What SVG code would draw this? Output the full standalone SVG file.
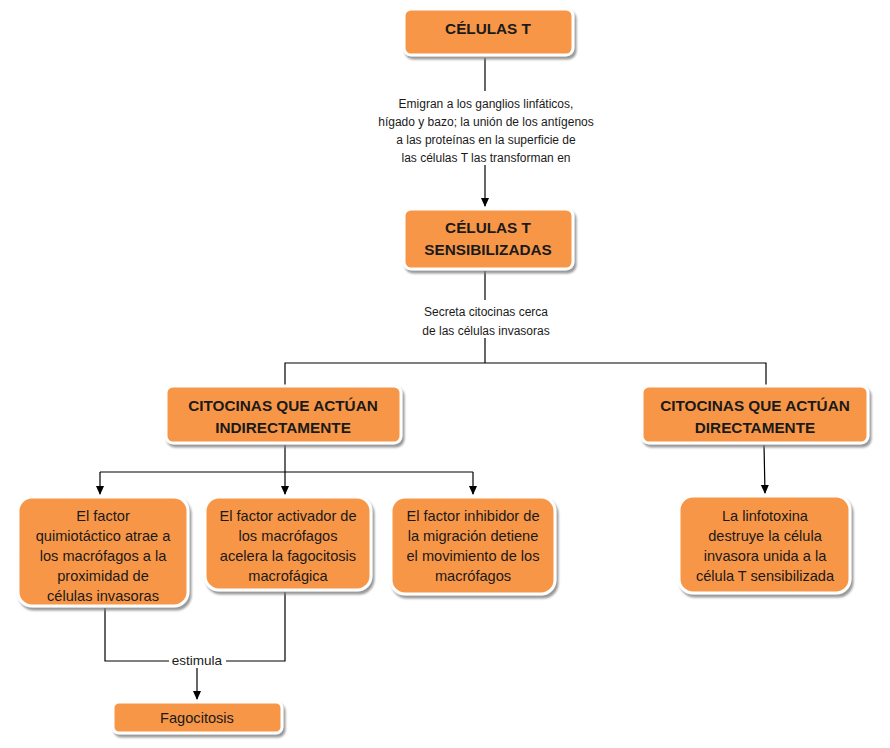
<svg xmlns="http://www.w3.org/2000/svg" width="890" height="748" viewBox="0 0 890 748">
<defs>
<filter id="sh" x="-10%" y="-10%" width="130%" height="140%">
<feDropShadow dx="2" dy="3" stdDeviation="1.2" flood-color="#7f7f7f" flood-opacity="0.8"/>
</filter>
<marker id="ar" markerWidth="9" markerHeight="10" refX="8" refY="4.5" orient="auto" markerUnits="userSpaceOnUse">
<path d="M0,0.5 L9,4.5 L0,8.5 Z" fill="#000"/>
</marker>
<style>
.box{fill:#F79646;stroke:#ffffff;stroke-width:3;filter:url(#sh)}
.t{font-family:"Liberation Sans",Arial,sans-serif;font-size:15.3px;font-weight:bold;fill:#1a1a1a;text-anchor:middle}
.n{font-family:"Liberation Sans",Arial,sans-serif;font-size:14.6px;fill:#1a1a1a;text-anchor:middle}
.l{font-family:"Liberation Sans",Arial,sans-serif;font-size:12px;fill:#1a1a1a;text-anchor:middle}
.c{fill:none;stroke:#000;stroke-width:1.2}
.a{fill:none;stroke:#000;stroke-width:1.2;marker-end:url(#ar)}
</style>
</defs>
<rect width="890" height="748" fill="#fff"/>
<g id="connectors">
<line class="c" x1="485" y1="58" x2="485" y2="91"/>
<line class="a" x1="485" y1="165" x2="485" y2="206"/>
<line class="c" x1="485" y1="271" x2="485" y2="300"/>
<polyline class="c" points="485,338 485,363"/>
<polyline class="c" points="285,385 285,363 766,363 766,385"/>
<line class="c" x1="285" y1="445" x2="285" y2="472"/>
<polyline class="c" points="100,472 473,472"/>
<line class="a" x1="100" y1="472" x2="100" y2="494"/>
<line class="a" x1="285" y1="472" x2="285" y2="494"/>
<line class="a" x1="473" y1="472" x2="473" y2="494"/>
<line class="a" x1="764" y1="445" x2="765" y2="493"/>
<polyline class="c" points="105,608 105,661 169,661"/>
<polyline class="c" points="226,661 285,661 285,592"/>
<line class="a" x1="197" y1="668" x2="197" y2="699"/>
<g id="labels">
<text class="l" x="486" y="108">Emigran a los ganglios linfáticos,</text>
<text class="l" x="486" y="126">hígado y bazo; la unión de los antígenos</text>
<text class="l" x="486" y="144">a las proteínas en la superficie de</text>
<text class="l" x="486" y="162">las células T las transforman en</text>
<text class="l" x="486" y="316">Secreta citocinas cerca</text>
<text class="l" x="486" y="335">de las células invasoras</text>
<text class="l" x="197" y="665" style="font-size:13.5px">estimula</text>
</g>
</g>
<g id="n1">
<rect class="box" x="404" y="9" width="169" height="46" rx="7"/>
<text class="t" x="488" y="34">CÉLULAS T</text>
</g>
<g id="n2">
<rect class="box" x="404" y="209" width="169" height="60" rx="7"/>
<text class="t" x="488" y="233">CÉLULAS T</text>
<text class="t" x="488" y="255">SENSIBILIZADAS</text>
</g>
<g id="n3">
<rect class="box" x="166" y="386" width="235" height="57" rx="7"/>
<text class="t" x="283" y="411">CITOCINAS QUE ACTÚAN</text>
<text class="t" x="283" y="433">INDIRECTAMENTE</text>
</g>
<g id="n4">
<rect class="box" x="642" y="386" width="226" height="57" rx="7"/>
<text class="t" x="755" y="411">CITOCINAS QUE ACTÚAN</text>
<text class="t" x="755" y="433">DIRECTAMENTE</text>
</g>
<g id="n5">
<rect class="box" x="18" y="497" width="170" height="109" rx="14"/>
<text class="n" x="103" y="521">El factor</text>
<text class="n" x="103" y="541">quimiotáctico atrae a</text>
<text class="n" x="103" y="561">los macrófagos a la</text>
<text class="n" x="103" y="581">proximidad de</text>
<text class="n" x="103" y="601">células invasoras</text>
</g>
<g id="n6">
<rect class="box" x="205" y="497" width="166" height="93" rx="14"/>
<text class="n" x="288" y="521">El factor activador de</text>
<text class="n" x="288" y="541">los macrófagos</text>
<text class="n" x="288" y="561">acelera la fagocitosis</text>
<text class="n" x="288" y="581">macrofágica</text>
</g>
<g id="n7">
<rect class="box" x="391" y="497" width="164" height="97" rx="14"/>
<text class="n" x="473" y="521">El factor inhibidor de</text>
<text class="n" x="473" y="541">la migración detiene</text>
<text class="n" x="473" y="561">el movimiento de los</text>
<text class="n" x="473" y="581">macrófagos</text>
</g>
<g id="n8">
<rect class="box" x="679" y="496" width="171" height="97" rx="14"/>
<text class="n" x="765" y="521">La linfotoxina</text>
<text class="n" x="765" y="541">destruye la célula</text>
<text class="n" x="765" y="561">invasora unida a la</text>
<text class="n" x="765" y="581">célula T sensibilizada</text>
</g>
<g id="n9">
<rect class="box" x="113" y="702" width="169" height="31" rx="6"/>
<text class="n" x="197" y="723">Fagocitosis</text>
</g>
</svg>
